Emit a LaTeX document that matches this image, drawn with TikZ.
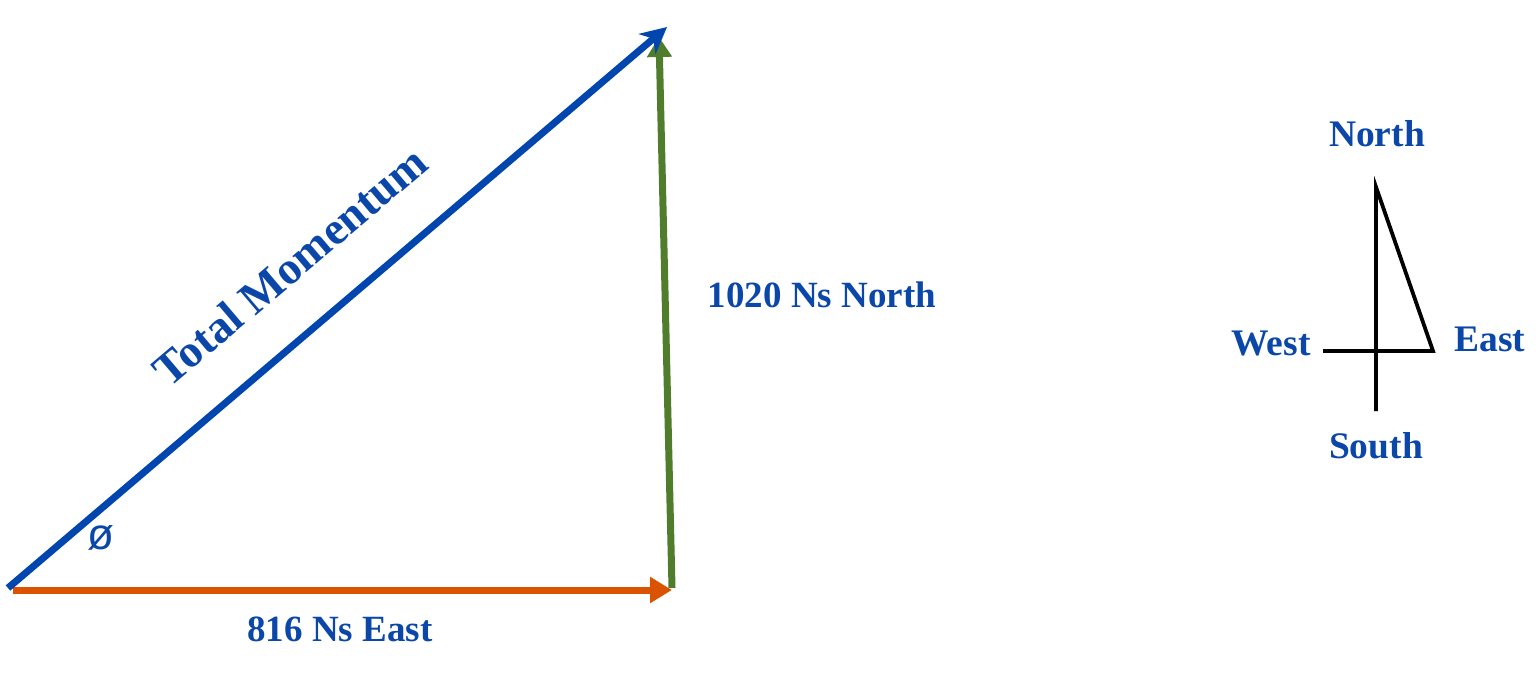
\documentclass[tikz,border=0pt]{standalone}
\usepackage{fontspec}
\setmainfont{Liberation Serif}
\newfontfamily\symfont{Liberation Sans}
\usetikzlibrary{arrows.meta}
\definecolor{vblue}{HTML}{0046AE}
\definecolor{vorange}{HTML}{D95300}
\definecolor{vgreen}{HTML}{4F7D2C}
\definecolor{tblue}{HTML}{0B47A8}
\tikzset{
  vec/.style={line width=7pt},
  lbl/.style={text=tblue,font=\bfseries\fontsize{37}{40}\selectfont,inner sep=0pt},
  clbl/.style={text=tblue,font=\bfseries\fontsize{37.5}{40}\selectfont,inner sep=0pt},
  cline/.style={line width=3.8pt,black,line join=miter}
}
\begin{document}
\begin{tikzpicture}[x=1pt,y=-1pt]
\useasboundingbox (0,0) rectangle (1536,683);
% vector end points
\coordinate (O) at (8,588);
\coordinate (Tb) at (667,27);
\coordinate (Oo) at (13,590);
\coordinate (Eo) at (672,590);
\coordinate (Bg) at (672,588);
\coordinate (Tg) at (659,37);
\draw[vec,vorange,-{Triangle[length=22pt,width=25pt]}] (Oo) -- (Eo);
\draw[vec,vgreen,-{Triangle[length=20pt,width=24pt]}] (Bg) -- (Tg);
\draw[vec,vblue,-{Stealth[length=26pt,width=26pt,inset=8pt]}] (O) -- (Tb);
% labels
\node[lbl,font=\bfseries\fontsize{46}{48}\selectfont,rotate=40.3] (tm) at (290,266) {Total Momentum};
\node[lbl] (north) at (822,295) {1020 Ns North};
\node[lbl] (east) at (340,629) {816 Ns East};
\node[text=tblue,font=\symfont\fontsize{44}{46}\selectfont,inner sep=0pt] (phi) at (101,538) {ø};
% compass
\coordinate (cN) at (1376,187);
\coordinate (cS) at (1376,411);
\coordinate (cW) at (1323,351);
\coordinate (cE) at (1433,351);
\draw[cline] (cS) -- (cN) -- (cE) -- (cW);
\node[clbl] (lN) at (1377,134) {North};
\node[clbl] (lS) at (1376,446) {South};
\node[clbl] (lW) at (1271,343) {West};
\node[clbl] (lE) at (1490,339) {East};
\end{tikzpicture}
\end{document}
